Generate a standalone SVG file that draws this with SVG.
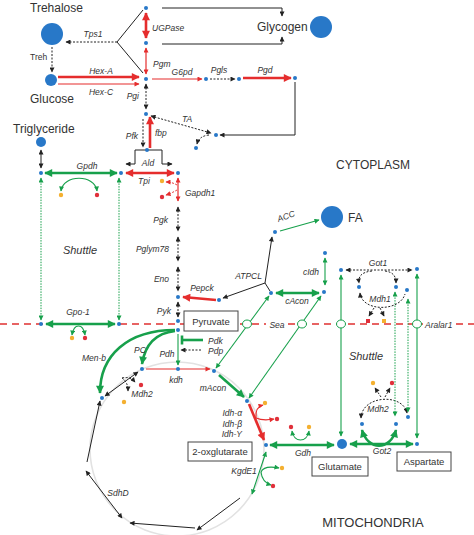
<svg xmlns="http://www.w3.org/2000/svg" width="474" height="535" viewBox="0 0 474 535">
<defs>
<marker id="mb" viewBox="0 0 10 10" refX="9" refY="5" markerWidth="6" markerHeight="5" markerUnits="userSpaceOnUse" orient="auto-start-reverse"><path d="M0,0 L10,5 L0,10 z" fill="#222"/></marker>
<marker id="mr" viewBox="0 0 10 10" refX="9" refY="5" markerWidth="6" markerHeight="5" markerUnits="userSpaceOnUse" orient="auto-start-reverse"><path d="M0,0 L10,5 L0,10 z" fill="#e52d2d"/></marker>
<marker id="mrL" viewBox="0 0 10 10" refX="9" refY="5" markerWidth="9" markerHeight="8" markerUnits="userSpaceOnUse" orient="auto-start-reverse"><path d="M0,0 L10,5 L0,10 z" fill="#e52d2d"/></marker>
<marker id="mg" viewBox="0 0 10 10" refX="9" refY="5" markerWidth="6" markerHeight="5" markerUnits="userSpaceOnUse" orient="auto-start-reverse"><path d="M0,0 L10,5 L0,10 z" fill="#17a04b"/></marker>
<marker id="mgL" viewBox="0 0 10 10" refX="9" refY="5" markerWidth="9" markerHeight="8" markerUnits="userSpaceOnUse" orient="auto-start-reverse"><path d="M0,0 L10,5 L0,10 z" fill="#17a04b"/></marker>
</defs>
<style>
.big{font-family:"Liberation Sans",Arial,sans-serif;font-size:12px;fill:#333}
.lbl{font-family:"Liberation Sans",Arial,sans-serif;font-size:8.5px;font-style:italic;fill:#333}
.reg{font-family:"Liberation Sans",Arial,sans-serif;font-size:8.5px;fill:#333}
.box{font-family:"Liberation Sans",Arial,sans-serif;font-size:9.5px;fill:#333;text-anchor:middle}
.c{text-anchor:middle}.e{text-anchor:end}
.n{fill:#2878c8}
.pool{fill:#2878c8}
.or{fill:#f4b030}.rd{fill:#e0303a}
.k{stroke:#222;stroke-width:1;fill:none}
.kd{stroke:#222;stroke-width:1;fill:none;stroke-dasharray:2,1.5}
.r{stroke:#e52d2d;stroke-width:1.2;fill:none}
.rT{stroke:#e52d2d;stroke-width:2.6;fill:none}
.rd2{stroke:#e52d2d;stroke-width:1;fill:none;stroke-dasharray:2,1.5}
.g{stroke:#17a04b;stroke-width:1.1;fill:none}
.gd{stroke:#17a04b;stroke-width:1;fill:none;stroke-dasharray:1.5,1.2}
.gT{stroke:#17a04b;stroke-width:2.6;fill:none}
.rect{fill:#fff;stroke:#444;stroke-width:1}
.sea{fill:#fff;stroke:#17a04b;stroke-width:1}
.wb{fill:#fff}
</style>
<rect x="0" y="0" width="474" height="535" fill="#fff"/>
<!-- TCA ring -->
<circle cx="177" cy="449" r="87" fill="none" stroke="#e2e2e2" stroke-width="1.6"/>
<!-- membrane -->
<line x1="0" y1="324" x2="474" y2="324" stroke="#e03030" stroke-width="1.3" stroke-dasharray="7,5"/>
<rect class="wb" x="266" y="319" width="22" height="11"/>
<rect class="wb" x="423" y="319" width="31" height="11"/>
<g id="connectors">
<line class="kd" x1="117" y1="42" x2="66" y2="42" marker-end="url(#mb)"/>
<line class="k" x1="117" y1="42" x2="143" y2="10"/>
<line class="k" x1="117" y1="42" x2="143" y2="73"/>
<line class="rT" x1="146" y1="13" x2="146" y2="38" marker-start="url(#mrL)" marker-end="url(#mrL)"/>
<line class="r" x1="146" y1="48" x2="146" y2="74" marker-start="url(#mr)" marker-end="url(#mr)"/>
<polyline class="k" stroke-width="1.3" points="162,8 282,8 282,16" marker-end="url(#mb)"/>
<polyline class="k" stroke-width="1.3" points="162,44 282,44 282,37" marker-end="url(#mb)"/>
<line class="kd" x1="52" y1="47" x2="52" y2="72" marker-end="url(#mb)"/>
<line class="rT" x1="58" y1="77" x2="139" y2="77" marker-end="url(#mrL)"/>
<line class="r" x1="58" y1="84" x2="139" y2="84" marker-end="url(#mr)"/>
<line class="r" x1="152" y1="79" x2="202" y2="79" marker-end="url(#mr)"/>
<line class="kd" x1="210" y1="79" x2="235" y2="79" marker-end="url(#mb)"/>
<line class="rT" stroke-width="2" x1="243" y1="78" x2="291" y2="78" marker-end="url(#mrL)"/>
<polyline class="k" stroke-width="1.3" points="295,82 295,135 220,135" marker-end="url(#mb)"/>
<line class="kd" x1="146" y1="84" x2="146" y2="109" marker-start="url(#mb)" marker-end="url(#mb)"/>
<line class="kd" x1="151" y1="116" x2="211" y2="133" marker-start="url(#mb)" marker-end="url(#mb)"/>
<path class="kd" d="M209,135 Q199,136 197,144" marker-end="url(#mb)"/>
<line class="kd" x1="143" y1="119" x2="143" y2="147" marker-end="url(#mb)"/>
<line class="rT" x1="150" y1="148" x2="150" y2="117" marker-end="url(#mrL)"/>
<path class="k" stroke="#444" stroke-width="1.4" d="M126,164 L135,164 L135,150 L162,150 L162,164 L172,164" marker-start="url(#mb)" marker-end="url(#mb)"/>
<line class="rT" x1="126" y1="173" x2="174" y2="173" marker-start="url(#mrL)" marker-end="url(#mrL)"/>
<line class="gT" x1="45" y1="173" x2="117" y2="173" marker-start="url(#mgL)" marker-end="url(#mgL)"/>
<path class="g" stroke-width="1.2" d="M61,191 C63,174 95,174 97,191" marker-start="url(#mg)" marker-end="url(#mg)"/>
<line class="k" x1="41" y1="150" x2="41" y2="168" marker-start="url(#mb)" marker-end="url(#mb)"/>
<line class="gd" x1="41" y1="178" x2="41" y2="320" marker-start="url(#mg)" marker-end="url(#mg)"/>
<line class="gd" x1="119" y1="178" x2="119" y2="320" marker-start="url(#mg)" marker-end="url(#mg)"/>
<line class="gT" x1="46" y1="324" x2="115" y2="324" marker-start="url(#mgL)" marker-end="url(#mgL)"/>
<path class="g" stroke-width="1.2" d="M72,335 C74,323 83,323 85,335" marker-start="url(#mg)" marker-end="url(#mg)"/>
<line class="r" x1="178" y1="178" x2="178" y2="201" marker-start="url(#mr)" marker-end="url(#mr)"/>
<path class="rd2" d="M177,185 Q172,182 166,182" marker-end="url(#mr)"/>
<path class="rd2" d="M177,190 Q172,193 166,195" marker-end="url(#mr)"/>
<line class="kd" x1="178" y1="207" x2="178" y2="231" marker-start="url(#mb)" marker-end="url(#mb)"/>
<line class="kd" x1="178" y1="237" x2="178" y2="261" marker-start="url(#mb)" marker-end="url(#mb)"/>
<line class="kd" x1="178" y1="267" x2="178" y2="291" marker-start="url(#mb)" marker-end="url(#mb)"/>
<line class="rT" x1="216" y1="300" x2="183" y2="297" marker-end="url(#mrL)"/>
<line class="kd" x1="178" y1="302" x2="178" y2="317" marker-start="url(#mb)" marker-end="url(#mb)"/>
<line class="gT" stroke-width="2" x1="203" y1="340" x2="182" y2="340"/>
<line class="gT" stroke-width="1.6" x1="182" y1="335.5" x2="182" y2="344.5"/>
<line class="kd" x1="201" y1="350" x2="181" y2="350" marker-end="url(#mb)"/>
<line class="g" stroke-width="1.3" x1="178" y1="334" x2="178" y2="365" marker-end="url(#mg)"/>
<path class="gT" d="M175,331 C156,333 145,345 142,364" marker-end="url(#mgL)"/>
<path class="gT" d="M175,330 C128,330 100,355 100,393" marker-end="url(#mgL)"/>
<line class="r" x1="146" y1="369" x2="210" y2="369" marker-end="url(#mr)"/>
<line class="gT" x1="219" y1="375" x2="244" y2="397" marker-end="url(#mgL)"/>
<line class="rT" x1="249" y1="404" x2="264" y2="440" marker-end="url(#mrL)"/>
<path class="r" d="M256,418 Q255,407 263,405" marker-end="url(#mr)"/>
<path class="r" d="M256,418 Q263,421 274,419" marker-end="url(#mr)"/>
<line class="gT" x1="270" y1="445" x2="334" y2="445" marker-start="url(#mgL)" marker-end="url(#mgL)"/>
<path class="g" stroke-width="1.2" d="M292,431 C294,443 307,443 309,431" marker-start="url(#mg)" marker-end="url(#mg)"/>
<line class="g" stroke-width="1.5" x1="266" y1="452" x2="252" y2="494" marker-start="url(#mg)" marker-end="url(#mg)"/>
<path class="g" d="M261,472 Q264,465 279,468" marker-end="url(#mg)"/>
<path class="g" d="M261,472 Q262,482 271,485" marker-end="url(#mg)"/>
<path class="gT" d="M362,430 C368,451 390,451 396,430" marker-start="url(#mgL)" marker-end="url(#mgL)"/>
<line class="gT" x1="350" y1="444" x2="413" y2="444" marker-start="url(#mgL)" marker-end="url(#mgL)"/>
<path class="kd" d="M361,418 C362,395 403,393 407,413" marker-start="url(#mb)" marker-end="url(#mb)"/>
<line class="kd" x1="381" y1="397" x2="375" y2="388" marker-end="url(#mb)"/>
<line class="kd" x1="385" y1="397" x2="390" y2="388" marker-end="url(#mb)"/>
<line class="g" stroke-width="1.3" x1="341" y1="275" x2="341" y2="436" marker-start="url(#mg)" marker-end="url(#mg)"/>
<line class="g" stroke-width="1.3" x1="417" y1="274" x2="417" y2="438" marker-start="url(#mg)" marker-end="url(#mg)"/>
<line class="gd" x1="395" y1="292" x2="395" y2="416" marker-start="url(#mg)" marker-end="url(#mg)"/>
<line class="gd" x1="408" y1="299" x2="408" y2="412" marker-start="url(#mg)" marker-end="url(#mg)"/>
<line class="kd" x1="346" y1="270" x2="412" y2="270" marker-start="url(#mb)" marker-end="url(#mb)"/>
<path class="kd" d="M372,271 C362,272 358,276 359,283" marker-end="url(#mb)"/>
<path class="kd" d="M385,271 C393,272 396,276 396,283" marker-end="url(#mb)"/>
<path class="kd" d="M360,293 C362,312 400,312 405,294" marker-start="url(#mb)"/>
<line class="kd" x1="374" y1="308" x2="369" y2="316" marker-end="url(#mb)"/>
<line class="kd" x1="380" y1="308" x2="384" y2="316" marker-end="url(#mb)"/>
<line class="g" stroke-width="0.9" x1="216" y1="368" x2="269" y2="296" marker-start="url(#mg)" marker-end="url(#mg)"/>
<line class="g" stroke-width="0.9" x1="249" y1="398" x2="321" y2="296" marker-start="url(#mg)" marker-end="url(#mg)"/>
<line class="g" stroke-width="1.2" x1="280" y1="231" x2="319" y2="220" marker-end="url(#mg)"/>
<line class="k" stroke-width="1.2" x1="265" y1="283" x2="272" y2="237" marker-end="url(#mb)"/>
<line class="k" stroke-width="1.2" x1="265" y1="283" x2="223" y2="298" marker-end="url(#mb)"/>
<line class="k" stroke-width="1.2" x1="265" y1="283" x2="270" y2="291"/>
<line class="gT" x1="276" y1="293" x2="319" y2="293" marker-start="url(#mgL)" marker-end="url(#mgL)"/>
<line class="g" stroke-width="1.3" x1="325" y1="258" x2="325" y2="285" marker-start="url(#mg)" marker-end="url(#mg)"/>
<line class="k" x1="138" y1="372" x2="105" y2="396" marker-start="url(#mb)" marker-end="url(#mb)"/>
<path class="kd" d="M122,378 Q130,376 135,382" marker-end="url(#mb)"/>
<path class="kd" d="M122,378 Q128,382 128,391" marker-end="url(#mb)"/>
<line class="k" x1="87" y1="462" x2="100" y2="401" marker-end="url(#mb)"/>
<line class="k" x1="86" y1="471" x2="122" y2="518" marker-start="url(#mb)" marker-end="url(#mb)"/>
<line class="k" x1="195" y1="528" x2="130" y2="523" marker-end="url(#mb)"/>
<line class="k" x1="240" y1="498" x2="197" y2="530" marker-end="url(#mb)"/>
</g>
<g id="transporters">
<ellipse class="sea" cx="247" cy="324" rx="4.5" ry="4"/>
<ellipse class="sea" cx="302" cy="324" rx="4.5" ry="4"/>
<ellipse class="sea" cx="341" cy="324" rx="4.5" ry="4"/>
<ellipse class="sea" cx="417" cy="324" rx="4.5" ry="4"/>
</g>
<g id="pools">
<g id="trehalose"><circle class="pool" cx="52" cy="34" r="11"/><text class="big" x="30" y="12">Trehalose</text></g>
<g id="glucose"><circle class="pool" cx="51" cy="80" r="6"/><text class="big" x="30" y="103">Glucose</text></g>
<g id="glycogen"><circle class="pool" cx="321" cy="27" r="11"/><text class="big" x="257" y="31">Glycogen</text></g>
<g id="triglyceride"><circle class="pool" cx="41" cy="142" r="5"/><text class="big" x="13" y="133">Triglyceride</text></g>
<g id="fa"><circle class="pool" cx="332" cy="217" r="11"/><text class="big" x="348" y="222">FA</text></g>
<g id="glutamate-pool"><circle class="pool" cx="342" cy="444" r="5"/></g>
</g>
<g id="boxes">
<g id="pyruvate"><rect class="rect" x="184" y="311" width="54" height="20"/><text class="box" x="211" y="324.5">Pyruvate</text></g>
<g id="oxoglutarate"><rect class="rect" x="188" y="442" width="64" height="19"/><text class="box" x="220" y="455">2-oxglutarate</text></g>
<g id="glutamate"><rect class="rect" x="312" y="457" width="56" height="19"/><text class="box" x="340" y="470">Glutamate</text></g>
<g id="aspartate"><rect class="rect" x="397" y="452" width="54" height="19"/><text class="box" x="424" y="465">Aspartate</text></g>
</g>
<g id="nodes">
<circle class="n" cx="146" cy="8" r="2"/><circle class="n" cx="146" cy="43" r="2"/><circle class="n" cx="146" cy="79" r="2"/>
<circle class="n" cx="206" cy="79" r="2"/><circle class="n" cx="239" cy="79" r="2"/><circle class="n" cx="295" cy="78" r="2"/>
<circle class="n" cx="216" cy="135" r="2"/><circle class="n" cx="196" cy="148" r="2"/><circle class="n" cx="146" cy="114" r="2"/>
<circle class="n" cx="147" cy="150" r="2"/><circle class="n" cx="121" cy="173" r="2"/><circle class="n" cx="178" cy="173" r="2"/>
<circle class="n" cx="41" cy="173" r="2"/><circle class="n" cx="178" cy="297" r="2"/><circle class="n" cx="219" cy="300" r="2"/>
<circle class="n" cx="178" cy="321" r="2"/><circle class="n" cx="178" cy="330" r="2"/><circle class="n" cx="41" cy="324" r="2"/>
<circle class="n" cx="119" cy="324" r="2"/><circle class="n" cx="275" cy="232" r="2"/><circle class="n" cx="271" cy="293" r="2"/>
<circle class="n" cx="324" cy="292" r="2"/><circle class="n" cx="325" cy="253" r="2"/><circle class="n" cx="341" cy="270" r="2"/>
<circle class="n" cx="417" cy="269" r="2"/><circle class="n" cx="359" cy="287" r="2"/><circle class="n" cx="396" cy="287" r="2"/>
<circle class="n" cx="407" cy="290" r="2"/><circle class="n" cx="142" cy="369" r="2"/><circle class="n" cx="102" cy="398" r="2"/>
<circle class="n" cx="178" cy="369" r="2"/><circle class="n" cx="214" cy="371" r="2"/><circle class="n" cx="247" cy="401" r="2"/>
<circle class="n" cx="266" cy="445" r="2"/><circle class="n" cx="362" cy="424" r="2"/><circle class="n" cx="396" cy="424" r="2"/>
<circle class="n" cx="408" cy="417" r="2"/><circle class="n" cx="417" cy="444" r="2"/>
</g>
<g id="cofactors">
<circle class="or" cx="61" cy="195" r="2.2"/><circle class="rd" cx="97" cy="195" r="2.2"/>
<circle class="or" cx="72" cy="338" r="2.2"/><circle class="rd" cx="85" cy="338" r="2.2"/>
<circle class="or" cx="162" cy="181" r="2.2"/><circle class="rd" cx="162" cy="197" r="2.2"/>
<rect class="rd" x="366" y="319" width="4" height="4"/><rect class="or" x="382" y="319" width="4" height="4"/>
<circle class="rd" cx="141" cy="385" r="2.2"/><circle class="or" cx="124" cy="402" r="2.2"/>
<circle class="or" cx="265" cy="403" r="2.2"/><circle class="rd" cx="277" cy="419" r="2.2"/>
<circle class="rd" cx="291" cy="427" r="2.2"/><circle class="or" cx="309" cy="427" r="2.2"/>
<circle class="or" cx="282" cy="468" r="2.2"/><circle class="rd" cx="273" cy="486" r="2.2"/>
<circle class="or" cx="373" cy="383" r="2.2"/><circle class="rd" cx="392" cy="383" r="2.2"/>
</g>
<g id="labels">
<text class="lbl c" x="93" y="37">Tps1</text>
<text class="lbl" x="152" y="31">UGPase</text>
<text class="reg" x="30" y="60">Treh</text>
<text class="lbl c" x="101" y="74">Hex-A</text>
<text class="lbl c" x="101" y="95">Hex-C</text>
<text class="lbl" x="153" y="67">Pgm</text>
<text class="lbl c" x="182" y="75">G6pd</text>
<text class="lbl c" x="219" y="73">Pgls</text>
<text class="lbl c" x="265" y="73">Pgd</text>
<text class="lbl e" x="139" y="99">Pgi</text>
<text class="lbl c" x="187" y="122">TA</text>
<text class="lbl e" x="138" y="139">Pfk</text>
<text class="lbl" x="155" y="136">fbp</text>
<text class="lbl c" x="148" y="166">Ald</text>
<text class="lbl c" x="144" y="184">Tpi</text>
<text class="lbl c" x="87" y="169">Gpdh</text>
<text class="lbl" x="185" y="196">Gapdh1</text>
<text class="lbl e" x="168" y="223">Pgk</text>
<text class="lbl e" x="169" y="252">Pglym78</text>
<text class="lbl e" x="169" y="282">Eno</text>
<text class="lbl c" x="202" y="291">Pepck</text>
<text class="lbl e" x="171" y="314">Pyk</text>
<text class="lbl c" x="78" y="315">Gpo-1</text>
<text class="lbl c" style="font-size:11px" x="80" y="254">Shuttle</text>
<text class="lbl" x="208" y="344">Pdk</text>
<text class="lbl" x="208" y="354">Pdp</text>
<text class="lbl c" x="140" y="353">PC</text>
<text class="lbl c" x="167" y="357">Pdh</text>
<text class="lbl c" x="94" y="361">Men-b</text>
<text class="lbl c" x="176" y="383">kdh</text>
<text class="lbl c" x="213" y="391">mAcon</text>
<text class="lbl c" x="142" y="397">Mdh2</text>
<text class="lbl e" x="242" y="416">Idh-α</text>
<text class="lbl e" x="242" y="427">Idh-β</text>
<text class="lbl e" x="242" y="437">Idh-Y</text>
<text class="lbl c" x="244" y="474">KgdE1</text>
<text class="lbl c" x="303" y="456">Gdh</text>
<text class="lbl c" x="382" y="454">Got2</text>
<text class="lbl c" x="378" y="412">Mdh2</text>
<text class="lbl c" x="118" y="496">SdhD</text>
<text class="lbl c" x="277" y="328">Sea</text>
<text class="lbl c" transform="translate(287,219) rotate(-20)">ACC</text>
<text class="lbl e" x="262" y="279">ATPCL</text>
<text class="lbl c" x="297" y="304">cAcon</text>
<text class="lbl e" x="319" y="275">cIdh</text>
<text class="lbl c" x="378" y="266">Got1</text>
<text class="lbl c" x="380" y="302">Mdh1</text>
<text class="lbl" x="425" y="328">Aralar1</text>
<text class="lbl c" style="font-size:11px" x="366" y="360">Shuttle</text>
<text class="big c" x="373" y="169">CYTOPLASM</text>
<text class="big c" style="font-size:13px" x="373" y="527">MITOCHONDRIA</text>
</g>
</svg>
